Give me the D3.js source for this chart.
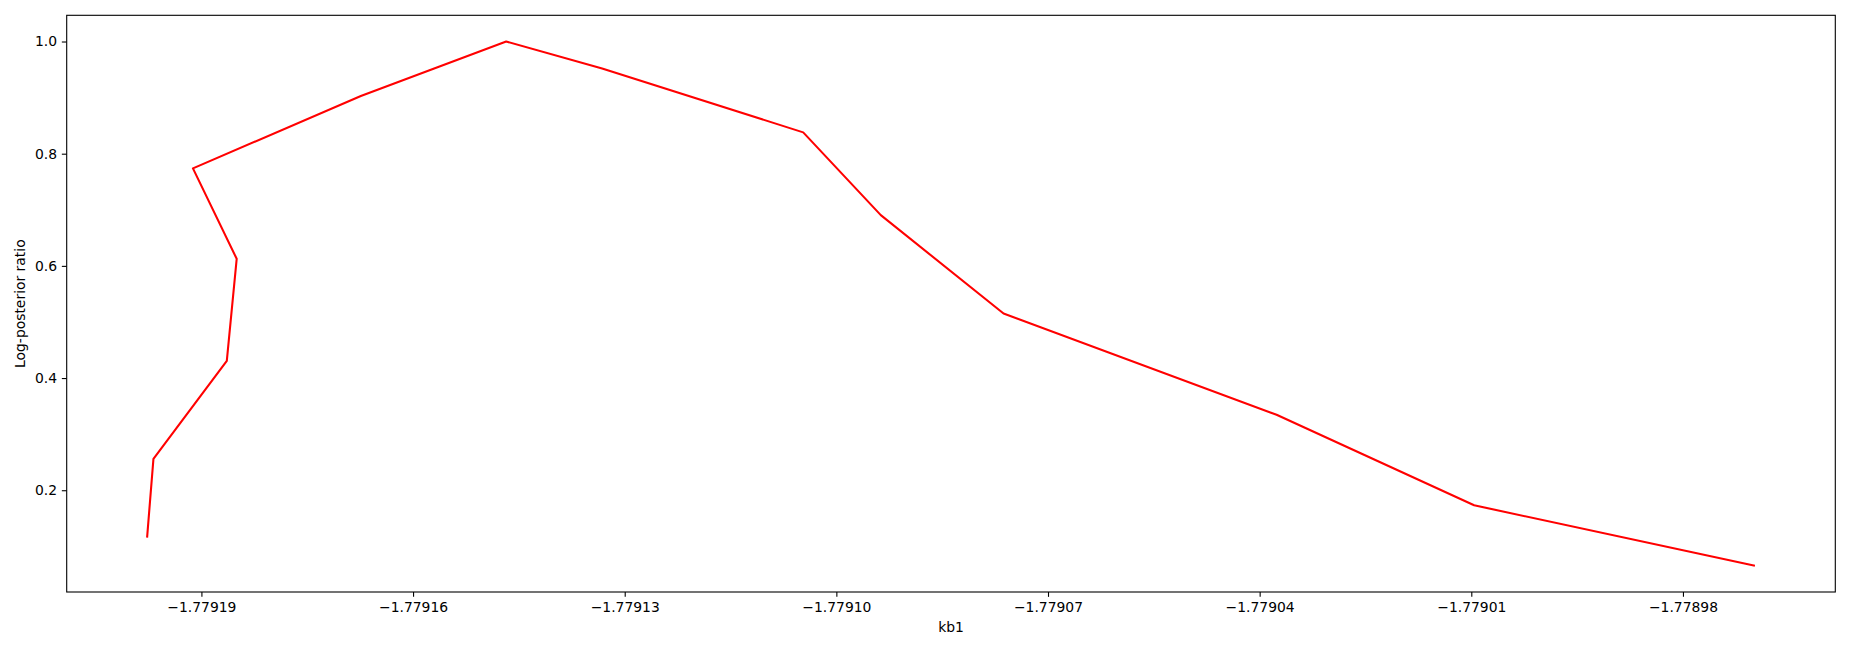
<!DOCTYPE html>
<html>
<head>
<meta charset="utf-8">
<script src="https://cdn.jsdelivr.net/npm/d3@7"></script>
<style>
body { margin:0; background:#fff; }
text { font-family:"DejaVu Sans", sans-serif; }
</style>
</head>
<body>
<svg id="chart" width="1850" height="650"></svg>
<script>
// kb1 values along the path, in drawing order
var kb1 = [-1.7791977, -1.7791968, -1.7791864, -1.7791850, -1.7791912, -1.7791674,
	-1.7791468, -1.7791332, -1.7791047, -1.7790937, -1.7790763, -1.7790376,
	-1.7790096, -1.7789698];
// log-posterior ratio at each point
var ratio = [0.1156, 0.2560, 0.4306, 0.6126, 0.7738, 0.9028, 1.0000, 0.9520,
	0.8380, 0.6905, 0.5150, 0.3345, 0.1732, 0.0653];

var xticks = [-1.77919, -1.77916, -1.77913, -1.77910, -1.77907, -1.77904, -1.77901, -1.77898];
var yticks = [0.2, 0.4, 0.6, 0.8, 1.0];

var W = 1850, H = 650;
var margin = {top:15.3, right:14.7, bottom:58, left:66.7};
var w = W - margin.left - margin.right;
var h = H - margin.top - margin.bottom;

// matplotlib style 5% padding around the data
function padded(arr) {
	var e = d3.extent(arr);
	var p = (e[1]-e[0])*0.05;
	return [e[0]-p, e[1]+p];
}

var x = d3.scaleLinear().domain(padded(kb1)).range([0,w]);
var y = d3.scaleLinear().domain(padded(ratio)).range([h,0]);

var svg = d3.select("#chart");
var g = svg.append("g").attr("transform","translate("+margin.left+","+margin.top+")");

var pts = kb1.map((d,i) => [d, ratio[i]]);
var line = d3.line().x(d => x(d[0])).y(d => y(d[1]));

g.append("path")
	.datum(pts)
	.attr("d", line)
	.style("fill","none")
	.style("stroke","#ff0000")
	.style("stroke-width",2.08)
	.style("stroke-linejoin","round");

var tk = 4.86;
var xa = g.append("g")
	.attr("transform","translate(0,"+h+")")
	.call(d3.axisBottom(x).tickValues(xticks).tickFormat(d3.format(".5f"))
		.tickSizeInner(tk).tickSizeOuter(0).tickPadding(tk));
var ya = g.append("g")
	.call(d3.axisLeft(y).tickValues(yticks).tickFormat(d3.format(".1f"))
		.tickSizeInner(tk).tickSizeOuter(0).tickPadding(tk));

[xa, ya].forEach(function(a) {
	a.selectAll("text").style("font-size","13.9px").style("fill","#000").style("font-family","DejaVu Sans");
	a.selectAll("line").style("stroke","#000").style("stroke-width",1.1);
	a.select(".domain").remove();
});

// frame (all four spines)
g.append("rect")
	.attr("width",w).attr("height",h)
	.style("fill","none")
	.style("stroke","#000")
	.style("stroke-width",1.1);

svg.append("text")
	.attr("x", margin.left + w/2)
	.attr("y", 632)
	.attr("text-anchor","middle")
	.style("font-size","13.9px")
	.text("kb1");

svg.append("text")
	.attr("transform","translate(25,"+(margin.top + h/2)+") rotate(-90)")
	.attr("text-anchor","middle")
	.style("font-size","13.9px")
	.text("Log-posterior ratio");
</script>
</body>
</html>
